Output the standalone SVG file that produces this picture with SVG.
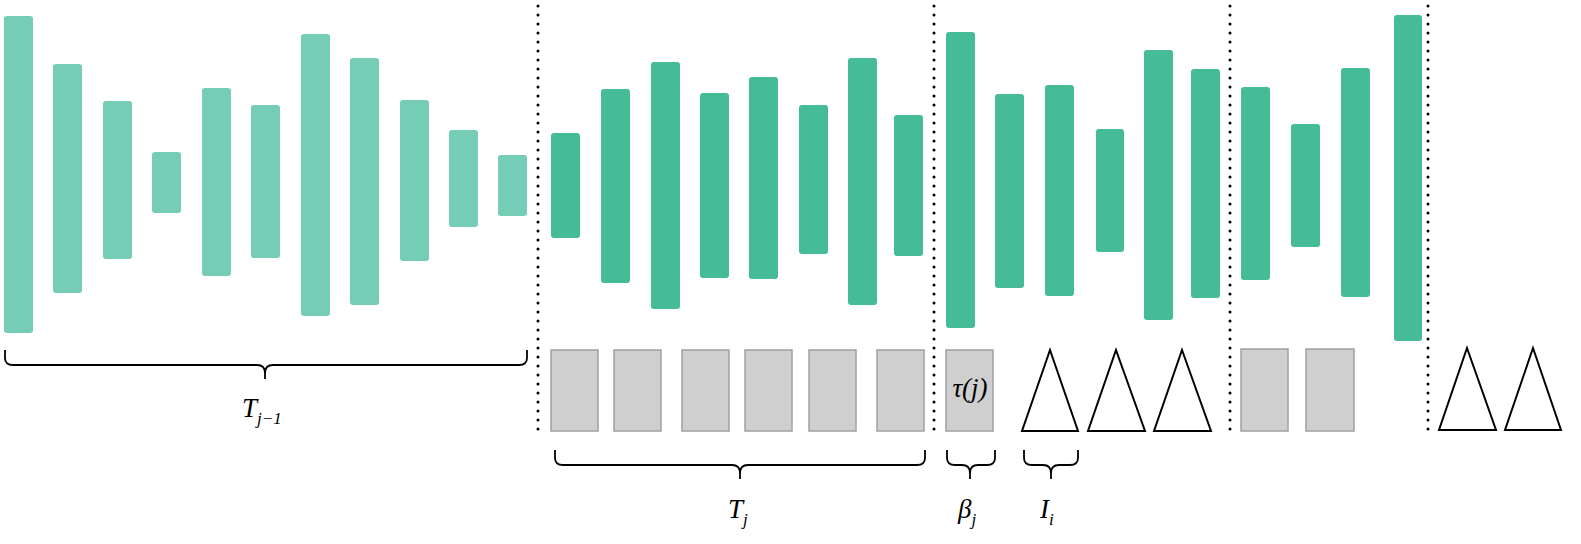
<svg xmlns="http://www.w3.org/2000/svg" width="1581" height="544" viewBox="0 0 1581 544">
<style>
.l{fill:#76cdb5}.d{fill:#45bb98}
.g{fill:#d0cfd0;stroke:#a0a0a0;stroke-width:1.5}
.t{fill:#fff;stroke:#000;stroke-width:2}
.b{fill:none;stroke:#000;stroke-width:1.8}
.dot{stroke:#000;stroke-width:3;stroke-dasharray:0 9;stroke-linecap:round}
text{font-family:"Liberation Serif","DejaVu Serif",serif;font-style:italic;font-size:27px;fill:#000}
.s{font-size:17px}
</style>
<rect width="1581" height="544" fill="#fff"/>
<g id="bars">
<rect class="l" x="4" y="16" width="29" height="317" rx="3"/>
<rect class="l" x="53" y="64" width="29" height="229" rx="3"/>
<rect class="l" x="103" y="101" width="29" height="158" rx="3"/>
<rect class="l" x="152" y="152" width="29" height="61" rx="3"/>
<rect class="l" x="202" y="88" width="29" height="188" rx="3"/>
<rect class="l" x="251" y="105" width="29" height="153" rx="3"/>
<rect class="l" x="301" y="34" width="29" height="282" rx="3"/>
<rect class="l" x="350" y="58" width="29" height="247" rx="3"/>
<rect class="l" x="400" y="100" width="29" height="161" rx="3"/>
<rect class="l" x="449" y="130" width="29" height="97" rx="3"/>
<rect class="l" x="498" y="155" width="29" height="61" rx="3"/>
<rect class="d" x="551" y="133" width="29" height="105" rx="3"/>
<rect class="d" x="601" y="89" width="29" height="194" rx="3"/>
<rect class="d" x="651" y="62" width="29" height="247" rx="3"/>
<rect class="d" x="700" y="93" width="29" height="185" rx="3"/>
<rect class="d" x="749" y="77" width="29" height="202" rx="3"/>
<rect class="d" x="799" y="105" width="29" height="149" rx="3"/>
<rect class="d" x="848" y="58" width="29" height="247" rx="3"/>
<rect class="d" x="894" y="115" width="29" height="141" rx="3"/>
<rect class="d" x="946" y="32" width="29" height="296" rx="3"/>
<rect class="d" x="995" y="94" width="29" height="194" rx="3"/>
<rect class="d" x="1045" y="85" width="29" height="211" rx="3"/>
<rect class="d" x="1096" y="129" width="28" height="123" rx="3"/>
<rect class="d" x="1144" y="50" width="29" height="270" rx="3"/>
<rect class="d" x="1191" y="69" width="29" height="229" rx="3"/>
<rect class="d" x="1241" y="87" width="29" height="193" rx="3"/>
<rect class="d" x="1291" y="124" width="29" height="123" rx="3"/>
<rect class="d" x="1341" y="68" width="29" height="229" rx="3"/>
<rect class="d" x="1394" y="15" width="28" height="326" rx="3"/>
</g>
<g id="separators">
<line class="dot" x1="538" y1="6" x2="538" y2="432"/>
<line class="dot" x1="934" y1="6" x2="934" y2="432"/>
<line class="dot" x1="1230" y1="6" x2="1230" y2="432"/>
<line class="dot" x1="1428" y1="6" x2="1428" y2="432"/>
</g>
<g id="blocks">
<rect class="g" x="551" y="350" width="47" height="81"/>
<rect class="g" x="614" y="350" width="47" height="81"/>
<rect class="g" x="682" y="350" width="47" height="81"/>
<rect class="g" x="745" y="350" width="47" height="81"/>
<rect class="g" x="809" y="350" width="47" height="81"/>
<rect class="g" x="877" y="350" width="47" height="81"/>
<rect class="g" x="946" y="350" width="47" height="81"/>
<rect class="g" x="1241" y="349" width="47" height="82"/>
<rect class="g" x="1306" y="349" width="48" height="82"/>
<text x="970" y="397" text-anchor="middle">τ(j)</text>
</g>
<g id="triangles">
<polygon class="t" points="1050,350 1078,431 1022,431"/>
<polygon class="t" points="1116,350 1145,431 1088,431"/>
<polygon class="t" points="1182,350 1211,431 1154,431"/>
<polygon class="t" points="1467,348 1496,430 1439,430"/>
<polygon class="t" points="1533,348 1561,430 1505,430"/>
</g>
<g id="braces">
<path class="b" d="M5,350 v8 q0,7 8,7 H257 q8,0 8,8 v6 M265,373 q0,-8 8,-8 H519 q8,0 8,-7 v-8"/>
<path class="b" d="M555,450 v8 q0,7 8,7 H732 q8,0 8,8 v6 M740,473 q0,-8 8,-8 H917 q8,0 8,-7 v-8"/>
<path class="b" d="M947,450 v8 q0,7 8,7 H962 q8,0 8,8 v6 M970,473 q0,-8 8,-8 H987 q8,0 8,-7 v-8"/>
<path class="b" d="M1024,450 v8 q0,7 8,7 H1043 q8,0 8,8 v6 M1051,473 q0,-8 8,-8 H1070 q8,0 8,-7 v-8"/>
</g>
<g id="labels">
<text x="242" y="417">T<tspan class="s" dy="7">j−1</tspan></text>
<text x="728" y="518">T<tspan class="s" dy="7">j</tspan></text>
<text x="958" y="518">β<tspan class="s" dy="7">j</tspan></text>
<text x="1040" y="518">I<tspan class="s" dy="7">i</tspan></text>
</g>
</svg>
